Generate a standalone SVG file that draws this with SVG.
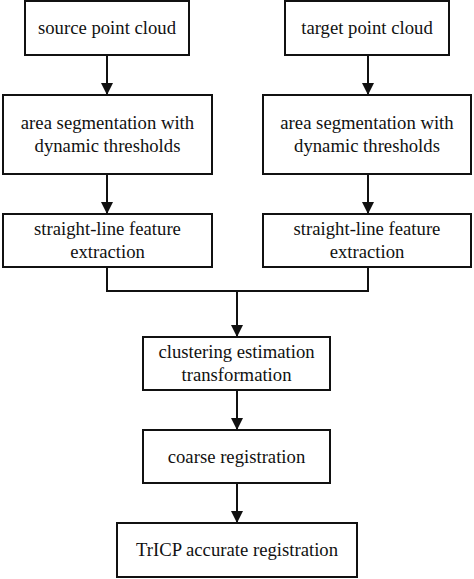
<svg xmlns="http://www.w3.org/2000/svg" width="474" height="579" viewBox="0 0 474 579">
<defs>
<style>
.box{fill:#fff;stroke:#111;stroke-width:2}
.lbl{font-family:'Liberation Serif','Times New Roman',serif;font-size:18.7px;fill:#111;text-anchor:middle}
.con{fill:none;stroke:#111;stroke-width:2}
</style>
<marker id="ah" markerUnits="userSpaceOnUse" markerWidth="12" markerHeight="13" refX="12" refY="6" orient="auto">
<path d="M0,0 L12,6 L0,12 Z" fill="#111"/>
</marker>
</defs>
<rect width="474" height="579" fill="#fff"/>
<g id="connectors">
<line class="con" x1="107" y1="55" x2="107" y2="95" marker-end="url(#ah)"/>
<line class="con" x1="107" y1="174" x2="107" y2="214" marker-end="url(#ah)"/>
<line class="con" x1="368" y1="55" x2="368" y2="95" marker-end="url(#ah)"/>
<line class="con" x1="368" y1="174" x2="368" y2="214" marker-end="url(#ah)"/>
<polyline class="con" points="107,267 107,291 368,291 368,267"/>
<line class="con" x1="237" y1="291" x2="237" y2="337" marker-end="url(#ah)"/>
<line class="con" x1="237" y1="390" x2="237" y2="430" marker-end="url(#ah)"/>
<line class="con" x1="237" y1="483" x2="237" y2="523" marker-end="url(#ah)"/>
</g>
<g id="source">
<rect class="box" x="25" y="1" width="164" height="54"/>
<text class="lbl" x="107" y="34">source point cloud</text>
</g>
<g id="target">
<rect class="box" x="285" y="1" width="164" height="54"/>
<text class="lbl" x="367" y="34">target point cloud</text>
</g>
<g id="seg-left">
<rect class="box" x="3" y="95" width="209" height="79"/>
<text class="lbl" x="107.5" y="129">area segmentation with</text>
<text class="lbl" x="107.5" y="152">dynamic thresholds</text>
</g>
<g id="seg-right">
<rect class="box" x="263" y="95" width="208" height="79"/>
<text class="lbl" x="367" y="129">area segmentation with</text>
<text class="lbl" x="367" y="152">dynamic thresholds</text>
</g>
<g id="line-left">
<rect class="box" x="3" y="214" width="209" height="53"/>
<text class="lbl" x="107.5" y="235">straight-line feature</text>
<text class="lbl" x="107.5" y="258">extraction</text>
</g>
<g id="line-right">
<rect class="box" x="263" y="214" width="208" height="53"/>
<text class="lbl" x="367" y="235">straight-line feature</text>
<text class="lbl" x="367" y="258">extraction</text>
</g>
<g id="cluster">
<rect class="box" x="143" y="337" width="187" height="53"/>
<text class="lbl" x="236.5" y="358">clustering estimation</text>
<text class="lbl" x="236.5" y="381">transformation</text>
</g>
<g id="coarse">
<rect class="box" x="143" y="430" width="187" height="53"/>
<text class="lbl" x="236.5" y="463">coarse registration</text>
</g>
<g id="tricp">
<rect class="box" x="117" y="523" width="240" height="54"/>
<text class="lbl" x="237" y="556">TrICP accurate registration</text>
</g>
</svg>
